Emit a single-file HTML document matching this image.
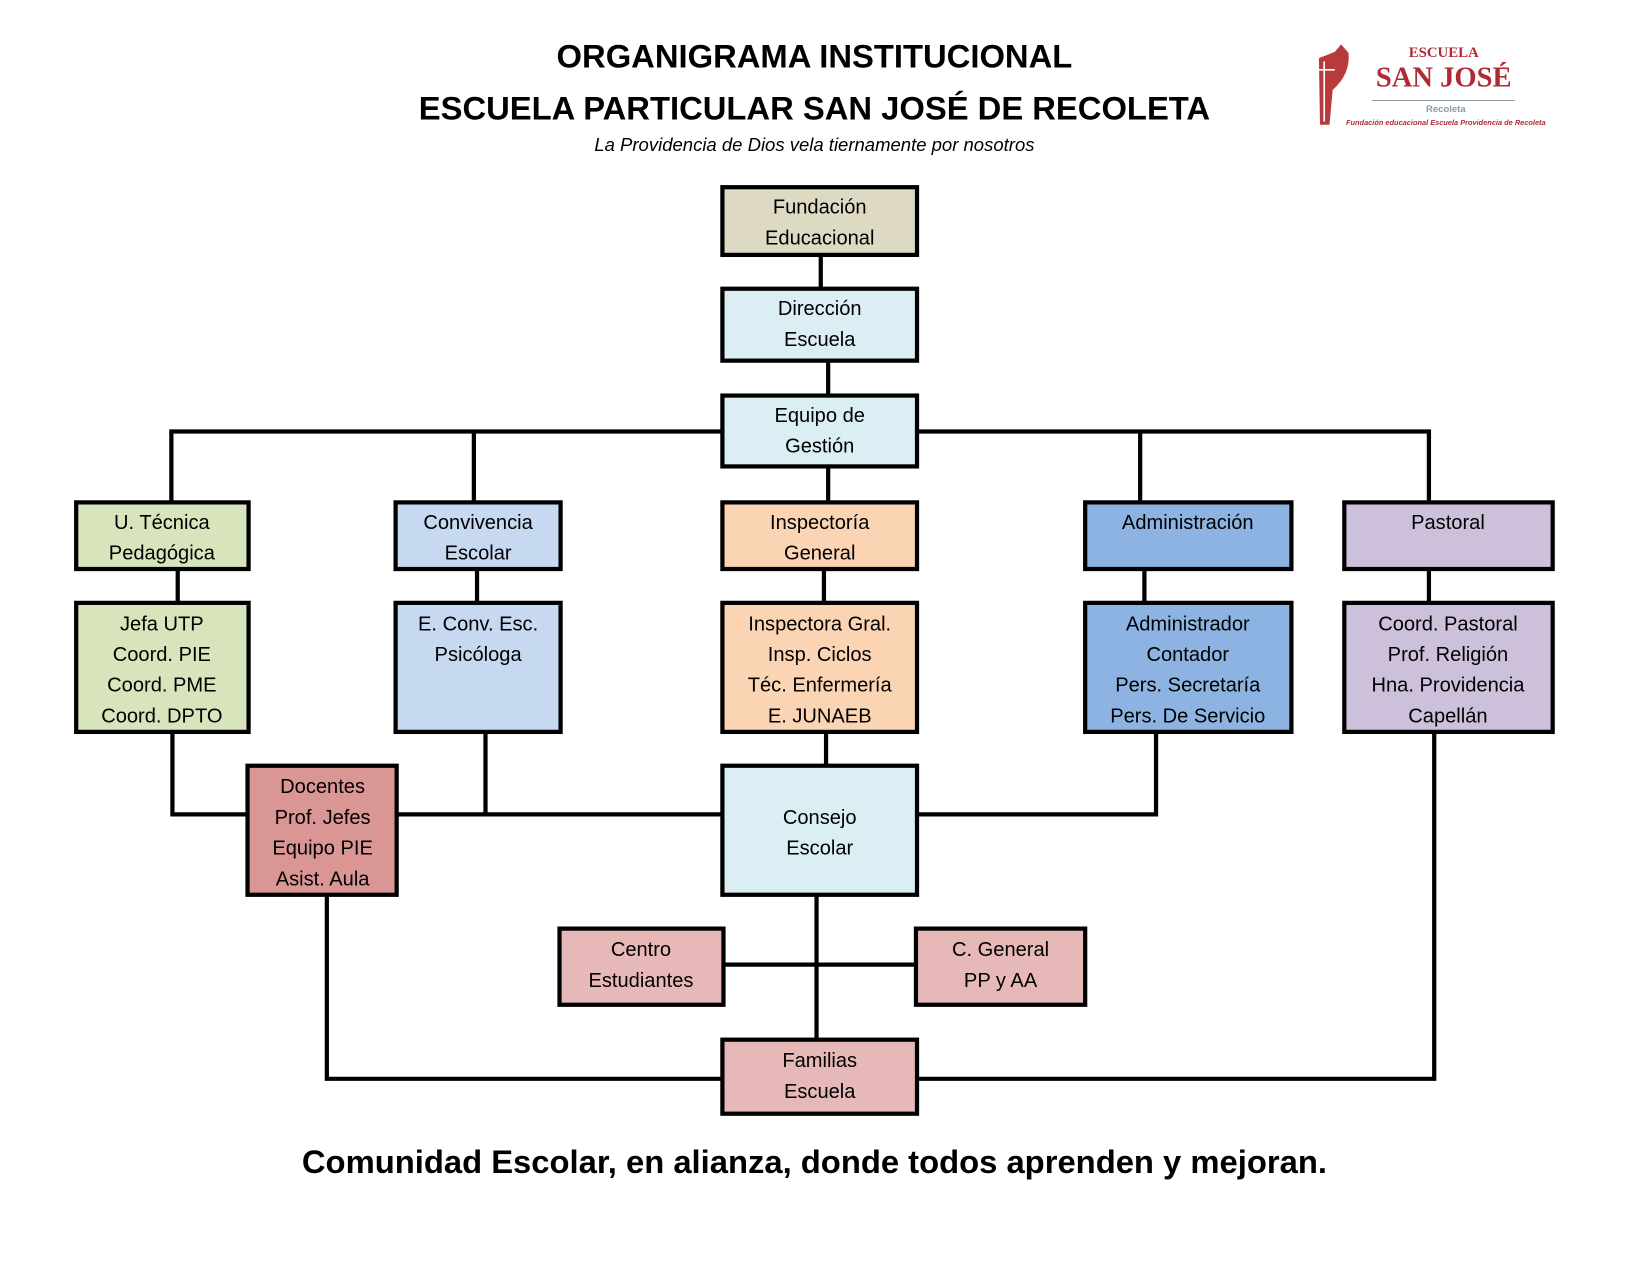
<!DOCTYPE html>
<html><head><meta charset="utf-8"><style>
html,body{margin:0;padding:0;background:#fff;}
svg{display:block;}
text{font-family:"Liberation Sans",sans-serif;}
</style></head><body>
<svg width="1650" height="1275" viewBox="0 0 1560 1205.5" xmlns="http://www.w3.org/2000/svg">
<g stroke="#000" stroke-width="4" fill="none">
<line x1="776" y1="241" x2="776" y2="273"/>
<line x1="783" y1="341" x2="783" y2="374"/>
<line x1="783" y1="441" x2="783" y2="475"/>
<polyline points="162,475 162,408 1351,408 1351,475"/>
<line x1="448" y1="408" x2="448" y2="475"/>
<line x1="1078" y1="408" x2="1078" y2="475"/>
<line x1="168" y1="538" x2="168" y2="570"/>
<line x1="451" y1="538" x2="451" y2="570"/>
<line x1="779" y1="538" x2="779" y2="570"/>
<line x1="1082" y1="538" x2="1082" y2="570"/>
<line x1="1351" y1="538" x2="1351" y2="570"/>
<line x1="781" y1="692" x2="781" y2="724"/>
<polyline points="163,692 163,770 234,770"/>
<line x1="375" y1="770" x2="683" y2="770"/>
<line x1="459" y1="692" x2="459" y2="770"/>
<polyline points="867,770 1093,770 1093,692"/>
<line x1="772" y1="846" x2="772" y2="983"/>
<line x1="684" y1="912" x2="866" y2="912"/>
<polyline points="309,846 309,1020 683,1020"/>
<polyline points="867,1020 1356,1020 1356,692"/>
</g>
<g stroke="#000" stroke-width="4">
<rect x="683" y="177" width="184" height="64" fill="#ddd9c3"/>
<rect x="683" y="273" width="184" height="68" fill="#daeef3"/>
<rect x="683" y="374" width="184" height="67" fill="#daeef3"/>
<rect x="72" y="475" width="163" height="63" fill="#d7e4bc"/>
<rect x="374" y="475" width="156" height="63" fill="#c6d9f1"/>
<rect x="683" y="475" width="184" height="63" fill="#fbd4b4"/>
<rect x="1026" y="475" width="195" height="63" fill="#8db3e2"/>
<rect x="1271" y="475" width="197" height="63" fill="#ccc0da"/>
<rect x="72" y="570" width="163" height="122" fill="#d7e4bc"/>
<rect x="374" y="570" width="156" height="122" fill="#c6d9f1"/>
<rect x="683" y="570" width="184" height="122" fill="#fbd4b4"/>
<rect x="1026" y="570" width="195" height="122" fill="#8db3e2"/>
<rect x="1271" y="570" width="197" height="122" fill="#ccc0da"/>
<rect x="234" y="724" width="141" height="122" fill="#da9694"/>
<rect x="683" y="724" width="184" height="122" fill="#daeef3"/>
<rect x="529" y="878" width="155" height="72" fill="#e6b9b8"/>
<rect x="866" y="878" width="160" height="72" fill="#e6b9b8"/>
<rect x="683" y="983" width="184" height="70" fill="#e6b9b8"/>
</g>
<g font-size="19" text-anchor="middle" fill="#000">
<text x="775" y="202">Fundación</text><text x="775" y="231">Educacional</text>
<text x="775" y="298">Dirección</text><text x="775" y="327">Escuela</text>
<text x="775" y="399">Equipo de</text><text x="775" y="428">Gestión</text>
<text x="153" y="500">U. Técnica</text><text x="153" y="529">Pedagógica</text>
<text x="452" y="500">Convivencia</text><text x="452" y="529">Escolar</text>
<text x="775" y="500">Inspectoría</text><text x="775" y="529">General</text>
<text x="1123" y="500">Administración</text>
<text x="1369" y="500">Pastoral</text>
<text x="153" y="596">Jefa UTP</text><text x="153" y="625">Coord. PIE</text><text x="153" y="654">Coord. PME</text><text x="153" y="683">Coord. DPTO</text>
<text x="452" y="596">E. Conv. Esc.</text><text x="452" y="625">Psicóloga</text>
<text x="775" y="596">Inspectora Gral.</text><text x="775" y="625">Insp. Ciclos</text><text x="775" y="654">Téc. Enfermería</text><text x="775" y="683">E. JUNAEB</text>
<text x="1123" y="596">Administrador</text><text x="1123" y="625">Contador</text><text x="1123" y="654">Pers. Secretaría</text><text x="1123" y="683">Pers. De Servicio</text>
<text x="1369" y="596">Coord. Pastoral</text><text x="1369" y="625">Prof. Religión</text><text x="1369" y="654">Hna. Providencia</text><text x="1369" y="683">Capellán</text>
<text x="305" y="750">Docentes</text><text x="305" y="779">Prof. Jefes</text><text x="305" y="808">Equipo PIE</text><text x="305" y="837">Asist. Aula</text>
<text x="775" y="779">Consejo</text><text x="775" y="808">Escolar</text>
<text x="606" y="904">Centro</text><text x="606" y="933">Estudiantes</text>
<text x="946" y="904">C. General</text><text x="946" y="933">PP y AA</text>
<text x="775" y="1009">Familias</text><text x="775" y="1038">Escuela</text>
</g>
<g text-anchor="middle" font-weight="bold" fill="#000">
<text x="770" y="64" font-size="31">ORGANIGRAMA INSTITUCIONAL</text>
<text x="770" y="113" font-size="31">ESCUELA PARTICULAR SAN JOSÉ DE RECOLETA</text>
<text x="770" y="1109" font-size="31">Comunidad Escolar, en alianza, donde todos aprenden y mejoran.</text>
</g>
<text x="770" y="143" font-size="17.5" font-style="italic" text-anchor="middle">La Providencia de Dios vela tiernamente por nosotros</text>
<path d="M1247 55 L1262 49 L1268 42 L1275 50 Q1277 70 1260 85 L1257 118 L1248 118 Z" fill="#b83a3a"/>
<line x1="1252" y1="58" x2="1252" y2="115" stroke="#fff" stroke-width="1.5"/>
<line x1="1244" y1="66" x2="1262" y2="66" stroke="#fff" stroke-width="1.5"/>
<g text-anchor="middle" fill="#b02a35" font-weight="bold">
<text x="1365" y="54" font-size="14" style="font-family:'Liberation Serif',serif">ESCUELA</text>
<text x="1365" y="82" font-size="27" style="font-family:'Liberation Serif',serif">SAN JOSÉ</text>
</g>
<line x1="1297" y1="95" x2="1432" y2="95" stroke="#8d99a6" stroke-width="1"/>
<text x="1367" y="106" font-size="9" text-anchor="middle" fill="#8d99a6" font-weight="bold">Recoleta</text>
<text x="1367" y="118" font-size="7" text-anchor="middle" fill="#b02a35" font-weight="bold" font-style="italic">Fundación educacional Escuela Providencia de Recoleta</text>
</svg>
</body></html>
